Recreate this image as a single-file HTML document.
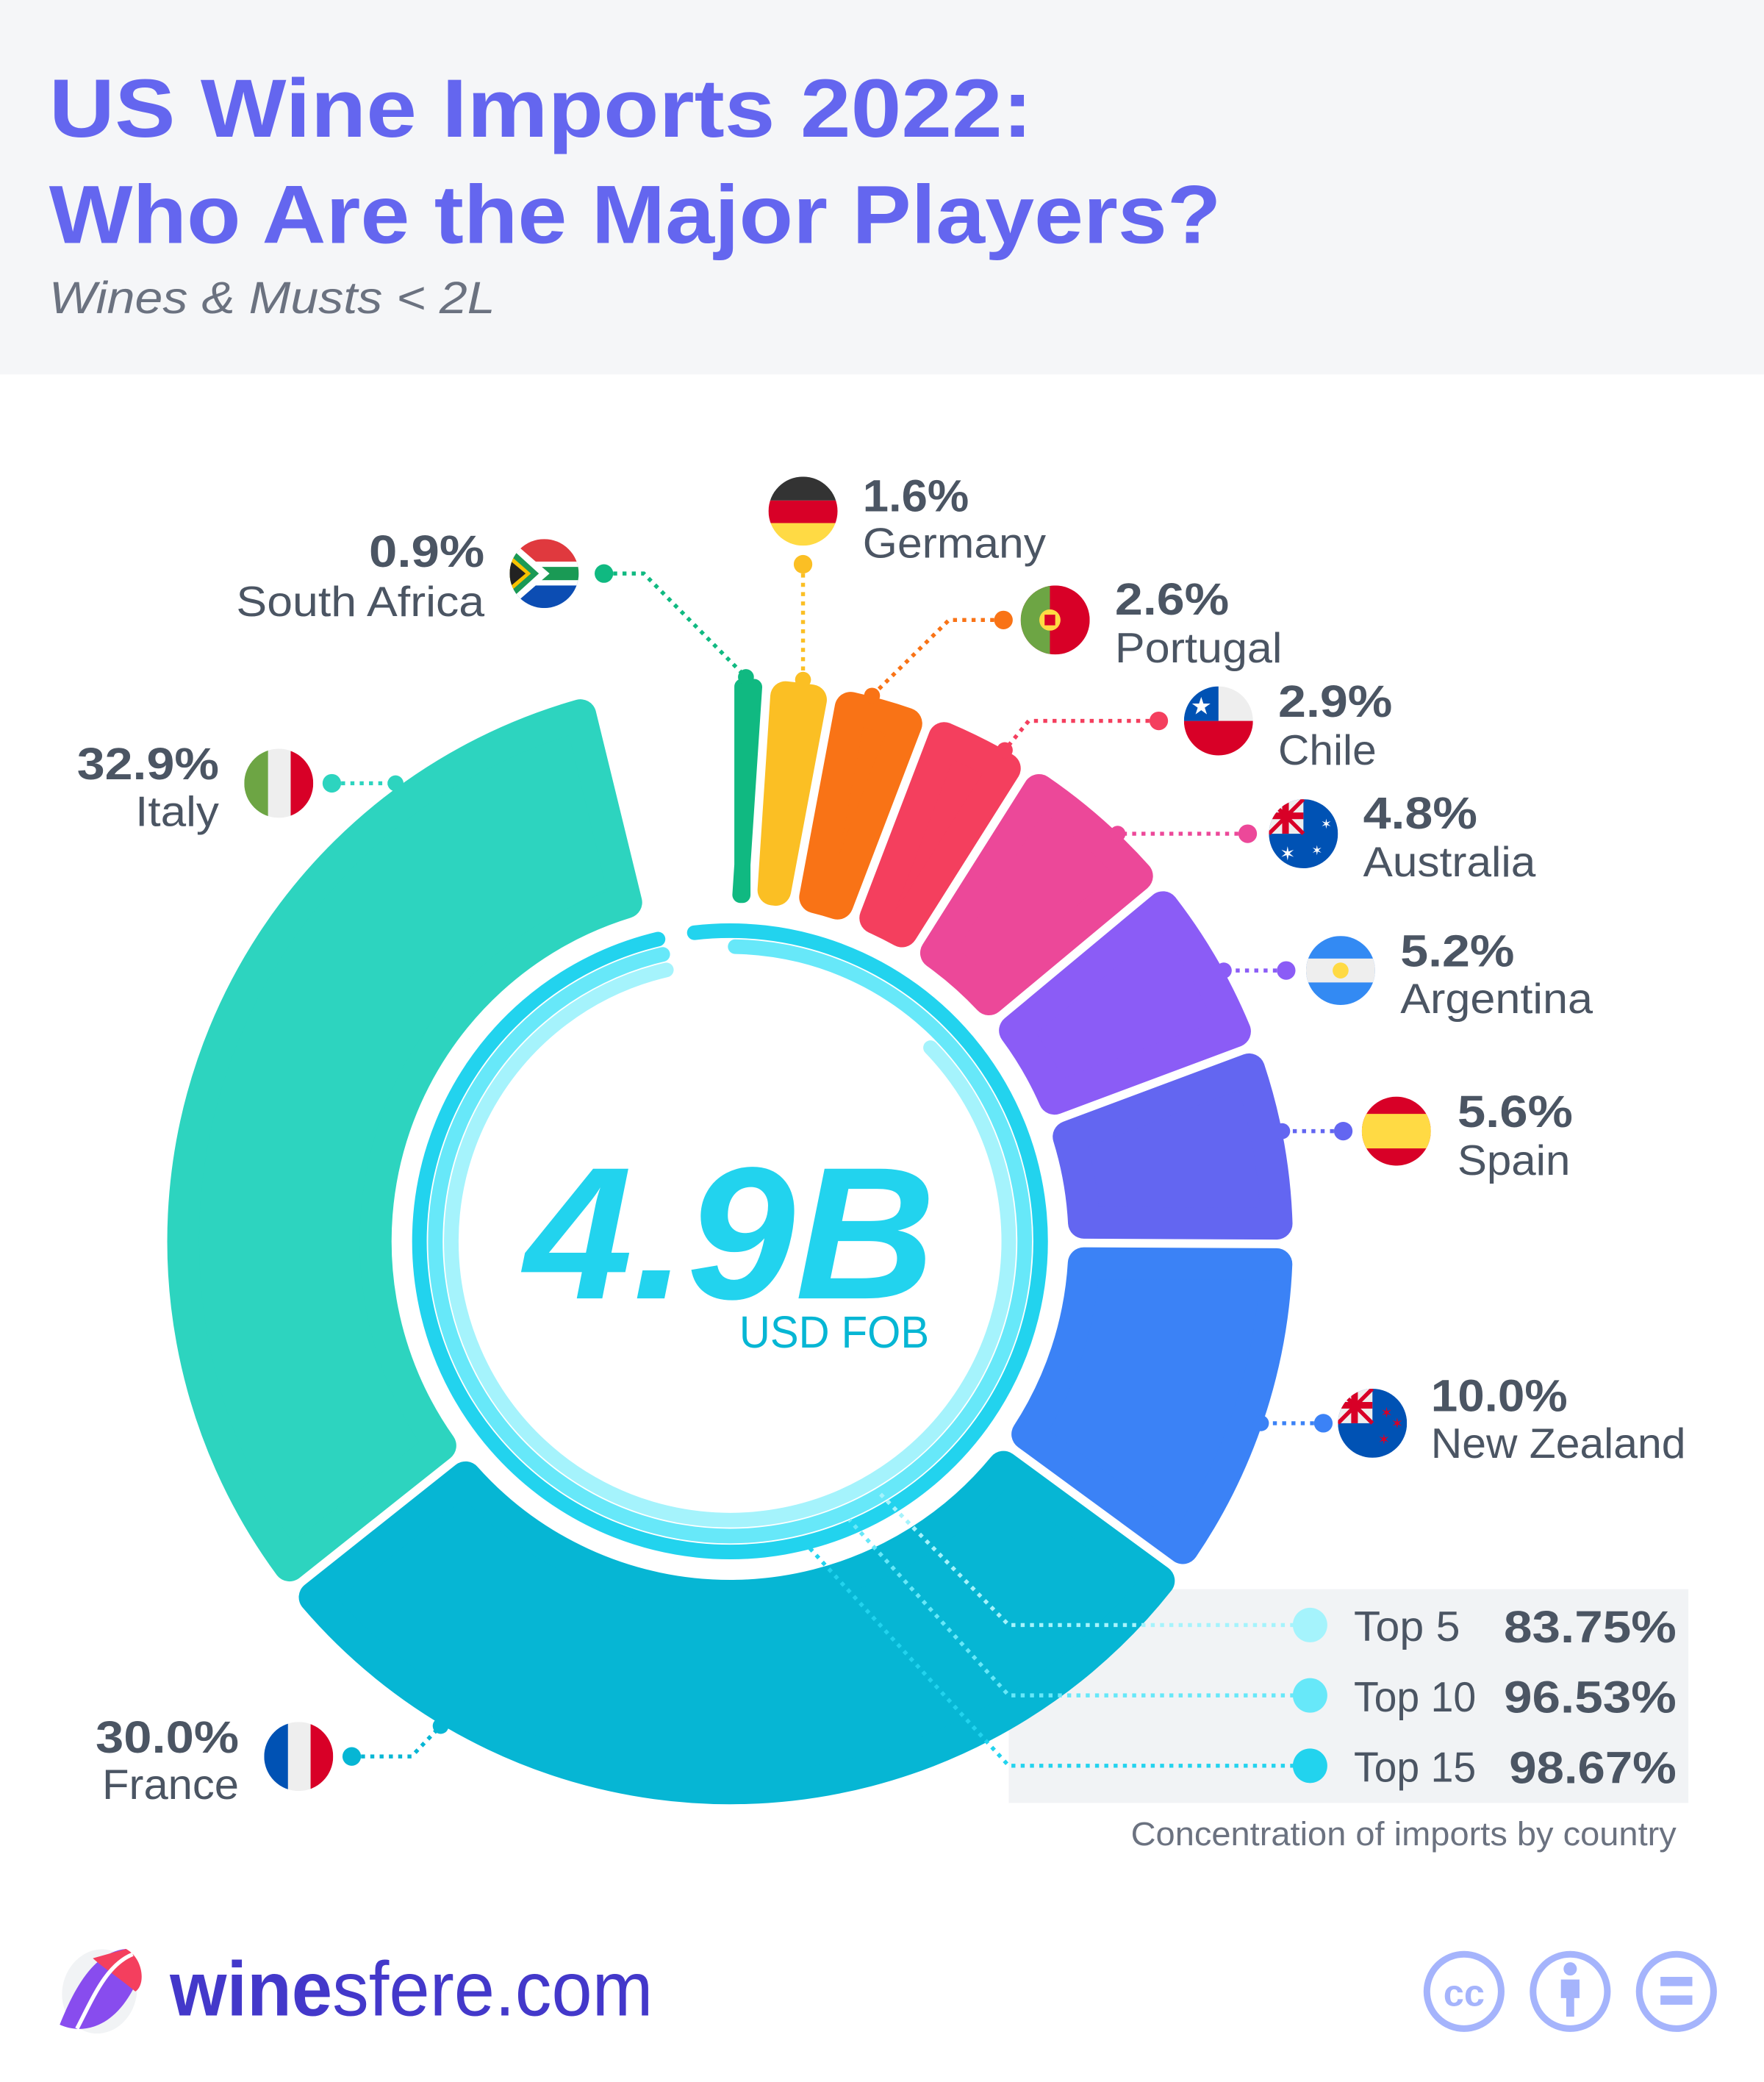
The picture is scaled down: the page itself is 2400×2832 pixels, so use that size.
<!DOCTYPE html>
<html><head><meta charset="utf-8">
<style>
html,body{margin:0;padding:0;background:#fff;}
svg{display:block;}
text{font-family:"Liberation Sans",sans-serif;}
</style></head>
<body>
<svg id="s" width="2400" height="2832" viewBox="0 0 1329 1568.2" preserveAspectRatio="none" xmlns="http://www.w3.org/2000/svg">
<defs>
<clipPath id="fc"><circle cx="0" cy="0" r="26"/></clipPath>
</defs>
<rect x="0" y="0" width="1329" height="1568.2" fill="#fff"/>
<rect x="0" y="0" width="1329" height="282" fill="#f5f6f8"/>
<text x="37" y="103" font-size="62" font-weight="bold" fill="#6466ef" textLength="741" lengthAdjust="spacingAndGlyphs">US Wine Imports 2022:</text>
<text x="37" y="183" font-size="62" font-weight="bold" fill="#6466ef" textLength="883" lengthAdjust="spacingAndGlyphs">Who Are the Major Players?</text>
<text x="37" y="236" font-size="34" font-style="italic" fill="#6b7280" textLength="336" lengthAdjust="spacingAndGlyphs">Wines &amp; Musts &lt; 2L</text>

<rect x="760" y="1197" width="512" height="161" fill="#f1f3f5"/>

<g id="segs"></g>
<g id="rings"></g>

<text x="550" y="978" font-size="142" font-weight="bold" font-style="italic" fill="#22d3ee" text-anchor="middle" textLength="310" lengthAdjust="spacingAndGlyphs">4.9B</text>
<text x="700" y="1015" font-size="34" fill="#06b6d4" text-anchor="end" textLength="143" lengthAdjust="spacingAndGlyphs">USD FOB</text>

<g fill="none" stroke-width="3" stroke-dasharray="3 4">
<polyline points="455,432 485,432 562,510" stroke="#10b981"/>
<polyline points="605,425 605,512" stroke="#fbbf24"/>
<polyline points="756,467 715,467 657,524" stroke="#f97316"/>
<polyline points="873,543 775,543 757,565" stroke="#f43f5e"/>
<polyline points="940,628 842,628" stroke="#ec4899"/>
<polyline points="969,731 922,731" stroke="#8b5cf6"/>
<polyline points="1012,852 966,852" stroke="#6366f1"/>
<polyline points="997,1072 950,1072" stroke="#3b82f6"/>
<polyline points="265,1323 310,1323 332,1300" stroke="#06b6d4"/>
<polyline points="250,590 298,590" stroke="#2dd4bf"/>
<polyline points="975,1224 760,1224 662,1124" stroke="#a5f3fc"/>
<polyline points="975,1277 760,1277 640,1145" stroke="#67e8f9"/>
<polyline points="975,1330 760,1330 610,1166" stroke="#22d3ee"/>
</g>
<g>
<circle cx="455" cy="432" r="7" fill="#10b981"/><circle cx="562" cy="510" r="6" fill="#10b981"/>
<circle cx="605" cy="425" r="7" fill="#fbbf24"/><circle cx="605" cy="512" r="6" fill="#fbbf24"/>
<circle cx="756" cy="467" r="7" fill="#f97316"/><circle cx="657" cy="524" r="6" fill="#f97316"/>
<circle cx="873" cy="543" r="7" fill="#f43f5e"/><circle cx="757" cy="565" r="6" fill="#f43f5e"/>
<circle cx="940" cy="628" r="7" fill="#ec4899"/><circle cx="842" cy="628" r="6" fill="#ec4899"/>
<circle cx="969" cy="731" r="7" fill="#8b5cf6"/><circle cx="922" cy="731" r="6" fill="#8b5cf6"/>
<circle cx="1012" cy="852" r="7" fill="#6366f1"/><circle cx="966" cy="852" r="6" fill="#6366f1"/>
<circle cx="997" cy="1072" r="7" fill="#3b82f6"/><circle cx="950" cy="1072" r="6" fill="#3b82f6"/>
<circle cx="265" cy="1323" r="7" fill="#06b6d4"/><circle cx="332" cy="1300" r="6" fill="#06b6d4"/>
<circle cx="250" cy="590" r="7" fill="#2dd4bf"/><circle cx="298" cy="590" r="6" fill="#2dd4bf"/>
<circle cx="987" cy="1224" r="13" fill="#a5f3fc"/>
<circle cx="987" cy="1277" r="13" fill="#67e8f9"/>
<circle cx="987" cy="1330" r="13" fill="#22d3ee"/>
</g>

<g transform="translate(410,432)" clip-path="url(#fc)">
<rect x="-26" y="-26" width="52" height="26" fill="#e0393e"/><rect x="-26" y="0" width="52" height="26" fill="#0c4db3"/>
<rect x="-26" y="-9" width="52" height="18" fill="#fff"/><rect x="-26" y="-5" width="52" height="10" fill="#1a9a55"/>
<polygon points="-26,-26 4,0 -26,26" fill="#fff"/><polygon points="-26,-20 -4,0 -26,20" fill="#1a9a55"/>
<polygon points="-26,-14 -10,0 -26,14" fill="#f8c200"/><polygon points="-26,-10 -14,0 -26,10" fill="#222"/>
</g>
<g transform="translate(605,385)" clip-path="url(#fc)">
<rect x="-26" y="-26" width="52" height="18" fill="#333"/><rect x="-26" y="-8" width="52" height="17" fill="#d80027"/><rect x="-26" y="9" width="52" height="17" fill="#ffda44"/>
</g>
<g transform="translate(795,467)" clip-path="url(#fc)">
<rect x="-26" y="-26" width="52" height="52" fill="#d80027"/><rect x="-26" y="-26" width="22" height="52" fill="#6da544"/>
<circle cx="-4" cy="0" r="8" fill="#ffda44"/><rect x="-8" y="-4" width="8" height="8" fill="#d80027"/>
</g>
<g transform="translate(918,543)" clip-path="url(#fc)">
<rect x="-26" y="-26" width="52" height="26" fill="#eee"/><rect x="-26" y="0" width="52" height="26" fill="#d80027"/>
<rect x="-26" y="-26" width="26" height="26" fill="#0052b4"/><text x="-13" y="-5" font-size="18" fill="#fff" text-anchor="middle">★</text>
</g>
<g transform="translate(982,628)" clip-path="url(#fc)">
<rect x="-26" y="-26" width="52" height="52" fill="#0052b4"/>
<rect x="-26" y="-26" width="26" height="26" fill="#eee"/><path d="M-26,-26 L0,0 M0,-26 L-26,0" stroke="#d80027" stroke-width="3"/>
<rect x="-26" y="-16" width="26" height="5" fill="#d80027"/><rect x="-16" y="-26" width="5" height="26" fill="#d80027"/>
<text x="-12" y="20" font-size="14" fill="#fff" text-anchor="middle">✶</text><text x="13" y="-4" font-size="10" fill="#fff">✶</text><text x="6" y="16" font-size="10" fill="#fff">✶</text>
</g>
<g transform="translate(1010,731)" clip-path="url(#fc)">
<rect x="-26" y="-26" width="52" height="52" fill="#338af3"/><rect x="-26" y="-9" width="52" height="18" fill="#eee"/>
<circle cx="0" cy="0" r="6" fill="#ffda44"/>
</g>
<g transform="translate(1052,852)" clip-path="url(#fc)">
<rect x="-26" y="-26" width="52" height="52" fill="#d80027"/><rect x="-26" y="-13" width="52" height="26" fill="#ffda44"/>
</g>
<g transform="translate(1034,1072)" clip-path="url(#fc)">
<rect x="-26" y="-26" width="52" height="52" fill="#0052b4"/>
<rect x="-26" y="-26" width="26" height="26" fill="#eee"/><path d="M-26,-26 L0,0 M0,-26 L-26,0" stroke="#d80027" stroke-width="3"/>
<rect x="-26" y="-16" width="26" height="5" fill="#d80027"/><rect x="-16" y="-26" width="5" height="26" fill="#d80027"/>
<text x="6" y="-4" font-size="11" fill="#d80027">✶</text><text x="14" y="4" font-size="11" fill="#d80027">✶</text><text x="4" y="16" font-size="11" fill="#d80027">✶</text>
</g>
<g transform="translate(225,1323)" clip-path="url(#fc)">
<rect x="-26" y="-26" width="18" height="52" fill="#0052b4"/><rect x="-8" y="-26" width="17" height="52" fill="#eee"/><rect x="9" y="-26" width="17" height="52" fill="#d80027"/>
</g>
<g transform="translate(210,590)" clip-path="url(#fc)">
<rect x="-26" y="-26" width="18" height="52" fill="#6da544"/><rect x="-8" y="-26" width="17" height="52" fill="#eee"/><rect x="9" y="-26" width="17" height="52" fill="#d80027"/>
</g>

<g fill="#4b5563" lengthAdjust="spacingAndGlyphs">
<text x="278" y="427" font-size="34" font-weight="bold" textLength="87" lengthAdjust="spacingAndGlyphs">0.9%</text>
<text x="178" y="464" font-size="32" textLength="187" lengthAdjust="spacingAndGlyphs">South Africa</text>
<text x="650" y="385" font-size="34" font-weight="bold" textLength="80" lengthAdjust="spacingAndGlyphs">1.6%</text>
<text x="650" y="420" font-size="32" textLength="138" lengthAdjust="spacingAndGlyphs">Germany</text>
<text x="840" y="463" font-size="34" font-weight="bold" textLength="86" lengthAdjust="spacingAndGlyphs">2.6%</text>
<text x="840" y="499" font-size="32" textLength="126" lengthAdjust="spacingAndGlyphs">Portugal</text>
<text x="963" y="540" font-size="34" font-weight="bold" textLength="86" lengthAdjust="spacingAndGlyphs">2.9%</text>
<text x="963" y="576" font-size="32" textLength="74" lengthAdjust="spacingAndGlyphs">Chile</text>
<text x="1027" y="624" font-size="34" font-weight="bold" textLength="86" lengthAdjust="spacingAndGlyphs">4.8%</text>
<text x="1027" y="660" font-size="32" textLength="130" lengthAdjust="spacingAndGlyphs">Australia</text>
<text x="1055" y="728" font-size="34" font-weight="bold" textLength="86" lengthAdjust="spacingAndGlyphs">5.2%</text>
<text x="1055" y="763" font-size="32" textLength="145" lengthAdjust="spacingAndGlyphs">Argentina</text>
<text x="1098" y="849" font-size="34" font-weight="bold" textLength="87" lengthAdjust="spacingAndGlyphs">5.6%</text>
<text x="1098" y="885" font-size="32" textLength="85" lengthAdjust="spacingAndGlyphs">Spain</text>
<text x="1078" y="1063" font-size="34" font-weight="bold" textLength="103" lengthAdjust="spacingAndGlyphs">10.0%</text>
<text x="1078" y="1098" font-size="32" textLength="192" lengthAdjust="spacingAndGlyphs">New Zealand</text>
<text x="72" y="1320" font-size="34" font-weight="bold" textLength="108" lengthAdjust="spacingAndGlyphs">30.0%</text>
<text x="77" y="1355" font-size="32" textLength="103" lengthAdjust="spacingAndGlyphs">France</text>
<text x="58" y="587" font-size="34" font-weight="bold" textLength="107" lengthAdjust="spacingAndGlyphs">32.9%</text>
<text x="102" y="622" font-size="32" textLength="63" lengthAdjust="spacingAndGlyphs">Italy</text>
<text x="1020" y="1236" font-size="32" textLength="80" lengthAdjust="spacingAndGlyphs">Top 5</text>
<text x="1020" y="1289" font-size="32" textLength="92" lengthAdjust="spacingAndGlyphs">Top 10</text>
<text x="1020" y="1342" font-size="32" textLength="92" lengthAdjust="spacingAndGlyphs">Top 15</text>
<text x="1133" y="1237" font-size="34" font-weight="bold" textLength="130" lengthAdjust="spacingAndGlyphs">83.75%</text>
<text x="1133" y="1290" font-size="34" font-weight="bold" textLength="130" lengthAdjust="spacingAndGlyphs">96.53%</text>
<text x="1137" y="1343" font-size="34" font-weight="bold" textLength="126" lengthAdjust="spacingAndGlyphs">98.67%</text>
</g>
<text x="852" y="1390" font-size="25" fill="#6b7280" textLength="411" lengthAdjust="spacingAndGlyphs">Concentration of imports by country</text>

<g>
<ellipse cx="75" cy="1500" rx="28" ry="32" fill="#f1f3f5" transform="rotate(15 75 1500)"/>
<path d="M95,1468 C70,1470 55,1500 45,1525 C60,1532 85,1530 102,1495 Z" fill="#7c3aed" opacity="0.9"/>
<path d="M95,1468 C108,1475 110,1495 102,1500 C90,1490 75,1480 70,1475 Z" fill="#f43f5e"/>
<path d="M58,1528 C70,1505 80,1480 100,1472" fill="none" stroke="#fff" stroke-width="3"/>
</g>
<text x="128" y="1518" font-size="58" fill="#4338ca" textLength="364" lengthAdjust="spacingAndGlyphs"><tspan font-weight="bold">wine</tspan>sfere.com</text>

<g fill="none" stroke="#a5b4fc" stroke-width="5">
<circle cx="1103" cy="1500" r="28"/><circle cx="1183" cy="1500" r="28"/><circle cx="1263" cy="1500" r="28"/>
</g>
<text x="1103" y="1511" font-size="28" font-weight="bold" fill="#a5b4fc" text-anchor="middle">cc</text>
<circle cx="1183" cy="1483" r="5" fill="#a5b4fc"/>
<rect x="1176" y="1491" width="14" height="14" fill="#a5b4fc"/><rect x="1180" y="1503" width="6" height="16" fill="#a5b4fc"/>
<rect x="1251" y="1489" width="24" height="7" fill="#a5b4fc"/><rect x="1251" y="1503" width="24" height="7" fill="#a5b4fc"/>
</svg>
<script>
(function(){
var NS="http://www.w3.org/2000/svg",cx=550,cy=935,R=424,r=255,g=6.5,K=0.963,D=1.3;
function P(rho,a){a=a*Math.PI/180;return [cx+rho*Math.sin(a),cy-rho*Math.cos(a)];}
var data=[[0.9,"#10b981"],[1.6,"#fbbf24"],[2.6,"#f97316"],[2.9,"#f43f5e"],[4.8,"#ec4899"],[5.2,"#8b5cf6"],[5.6,"#6366f1"],[10.0,"#3b82f6"],[30.0,"#06b6d4"],[32.9,"#2dd4bf"]];
var segs=document.getElementById("segs"),cum=0;
data.forEach(function(d,i){
 var a1=cum*3.6*K+i*D; cum+=d[0]; var a2=cum*3.6*K+i*D+ (i<9?0:0);
 var span=a2-a1;
 var win=r*span*Math.PI/180-g+D*Math.PI/180*r;
 var c=Math.min(12,win/2-0.5); if(c<1)c=1;
 var off=g/2+c,Ro=R-c,Ri=r+c;
 var ext=D/2;
 var do_=Math.asin(off/Ro)*180/Math.PI,di=Math.asin(off/Ri)*180/Math.PI;
 var b1=a1-(i>0?ext:0),b2=a2+(i<9?ext:0);
 var p1=P(Ro,b1+do_),p2=P(Ro,b2-do_),p3=P(Ri,b2-di),p4=P(Ri,b1+di);
 var lo=(b2-b1-2*do_)>180?1:0,li=(b2-b1-2*di)>180?1:0;
 var dd="M"+p1+" A"+Ro+","+Ro+" 0 "+lo+" 1 "+p2+" L"+p3+" A"+Ri+","+Ri+" 0 "+li+" 0 "+p4+" Z";
 var e=document.createElementNS(NS,"path");
 e.setAttribute("d",dd);e.setAttribute("fill",d[1]);e.setAttribute("stroke",d[1]);
 e.setAttribute("stroke-width",2*c);e.setAttribute("stroke-linejoin","round");
 segs.appendChild(e);
});
var rings=document.getElementById("rings");
[[234,-6.6,346.6,"#22d3ee"],[222,1,346.8,"#67e8f9"],[210,46,346.8,"#a5f3fc"]].forEach(function(q){
 var p1=P(q[0],q[1]),p2=P(q[0],q[2]),lg=(q[2]-q[1])>180?1:0;
 var e=document.createElementNS(NS,"path");
 e.setAttribute("d","M"+p1+" A"+q[0]+","+q[0]+" 0 "+lg+" 1 "+p2);
 e.setAttribute("fill","none");e.setAttribute("stroke",q[3]);e.setAttribute("stroke-width","11");e.setAttribute("stroke-linecap","round");
 rings.appendChild(e);
});
})();
</script>
</body></html>
